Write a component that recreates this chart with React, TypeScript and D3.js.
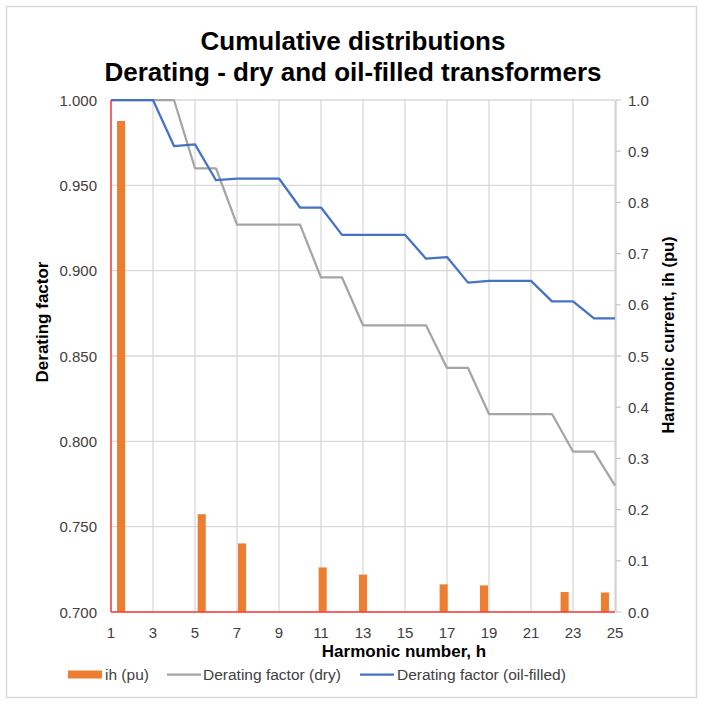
import React from "react";
import * as d3 from "d3";

const harmonics = d3.range(1, 26);
const ihValues = [0.959, 0, 0, 0, 0.191, 0, 0.134, 0, 0, 0, 0.087, 0, 0.073, 0, 0, 0, 0.054, 0, 0.052, 0, 0, 0, 0.039, 0, 0.038];
const dryValues = [1.0, 1.0, 1.0, 1.0, 0.96, 0.96, 0.927, 0.927, 0.927, 0.927, 0.896, 0.896, 0.868, 0.868, 0.868, 0.868, 0.843, 0.843, 0.816, 0.816, 0.816, 0.816, 0.794, 0.794, 0.774];
const oilValues = [1.0, 1.0, 1.0, 0.973, 0.974, 0.953, 0.954, 0.954, 0.954, 0.937, 0.937, 0.921, 0.921, 0.921, 0.921, 0.907, 0.908, 0.893, 0.894, 0.894, 0.894, 0.882, 0.882, 0.872, 0.872];
const leftTicks = [0.7, 0.75, 0.8, 0.85, 0.9, 0.95, 1.0];
const rightTicks = [0, 0.1, 0.2, 0.3, 0.4, 0.5, 0.6, 0.7, 0.8, 0.9, 1.0];
const xTicks = [1, 3, 5, 7, 9, 11, 13, 15, 17, 19, 21, 23, 25];

const W = 706, H = 707;
const L = 111, R = 615, T = 100, B = 612;
const FONT = "'Liberation Sans', Arial, sans-serif";
const ORANGE = "#ED7D31", GRAY = "#A5A5A5", BLUE = "#4472C4", RED = "#FF3B3B", GRID = "#D9D9D9";

export default function App() {
  const x = d3.scaleLinear().domain([1, 25]).range([L, R]);
  const xb = d3.scaleBand<number>().domain(harmonics).range([L, R]).paddingInner(0.6).paddingOuter(0.3);
  const yL = d3.scaleLinear().domain([0.7, 1.0]).range([B, T]);
  const yR = d3.scaleLinear().domain([0, 1.0]).range([B, T]);
  const lineDry = d3.line<number>().x((_, i) => x(harmonics[i])).y(d => yL(d));
  const lineOil = d3.line<number>().x((_, i) => x(harmonics[i])).y(d => yL(d));

  return (
    <svg width={W} height={H} style={{ position: "absolute", left: 0, top: 0 }} fontFamily={FONT}>
      <rect x={0} y={0} width={W} height={H} fill="#fff" />
      <rect x={6.5} y={6.5} width={690} height={691} fill="#fff" stroke="#D9D9D9" strokeWidth={1.5} />
      <text x={353} y={50} textAnchor="middle" fontSize={26} fontWeight="bold" fill="#000">Cumulative distributions</text>
      <text x={353} y={81} textAnchor="middle" fontSize={26} fontWeight="bold" fill="#000">Derating - dry and oil-filled transformers</text>

      {/* horizontal gridlines */}
      {leftTicks.map(t => (
        <line key={"h" + t} x1={L} x2={R} y1={yL(t)} y2={yL(t)} stroke={GRID} strokeWidth={1.3} />
      ))}
      {/* vertical gridlines */}
      {xTicks.map(t => (
        <line key={"v" + t} x1={x(t)} x2={x(t)} y1={T} y2={B} stroke={GRID} strokeWidth={1.3} />
      ))}

      {/* right axis */}
      <line x1={R + 1} x2={R + 1} y1={T} y2={B} stroke="#BFBFBF" strokeWidth={1} />
      {rightTicks.map(t => (
        <g key={"r" + t}>
          <line x1={R + 1} x2={R + 6} y1={yR(t)} y2={yR(t)} stroke="#BFBFBF" strokeWidth={1} />
          <text x={628} y={yR(t) + 5.5} fontSize={15} fill="#404040">{t.toFixed(1)}</text>
        </g>
      ))}
      {leftTicks.map(t => (
        <text key={"l" + t} x={97} y={yL(t) + 5.5} textAnchor="end" fontSize={15} fill="#404040">{t.toFixed(3)}</text>
      ))}
      {xTicks.map(t => (
        <text key={"x" + t} x={x(t)} y={638} textAnchor="middle" fontSize={15} fill="#404040">{t}</text>
      ))}

      {/* bars */}
      {ihValues.map((v, i) => v > 0 ? (
        <rect key={"b" + i} x={xb(harmonics[i])!} width={xb.bandwidth()} y={yR(v)} height={yR(0) - yR(v)} fill={ORANGE} />
      ) : null)}

      {/* lines */}
      <path d={lineDry(dryValues)!} fill="none" stroke={GRAY} strokeWidth={2.25} strokeLinejoin="round" />
      <path d={lineOil(oilValues)!} fill="none" stroke={BLUE} strokeWidth={2.25} strokeLinejoin="round" />

      {/* red axes */}
      <line x1={L} x2={L} y1={T} y2={B} stroke={RED} strokeWidth={1.5} />
      <line x1={L} x2={R} y1={B} y2={B} stroke={RED} strokeWidth={1.5} />

      {/* axis titles */}
      <text transform={`translate(48,322) rotate(-90)`} textAnchor="middle" fontSize={17} fontWeight="bold" fill="#000">Derating factor</text>
      <text transform={`translate(674,335) rotate(-90)`} textAnchor="middle" fontSize={16.5} fontWeight="bold" fill="#000">Harmonic current, ih (pu)</text>
      <text x={404} y={657} textAnchor="middle" fontSize={17} fontWeight="bold" fill="#000">Harmonic number, h</text>

      {/* legend */}
      <rect x={68} y={670.5} width={34} height={8} fill={ORANGE} />
      <text x={105} y={680} fontSize={15.5} fill="#404040">ih (pu)</text>
      <line x1={167} x2={201} y1={674.5} y2={674.5} stroke={GRAY} strokeWidth={2.25} />
      <text x={203} y={680} fontSize={15.5} fill="#404040">Derating factor (dry)</text>
      <line x1={360} x2={394} y1={674.5} y2={674.5} stroke={BLUE} strokeWidth={2.25} />
      <text x={397} y={680} fontSize={15.5} fill="#404040">Derating factor (oil-filled)</text>
    </svg>
  );
}
